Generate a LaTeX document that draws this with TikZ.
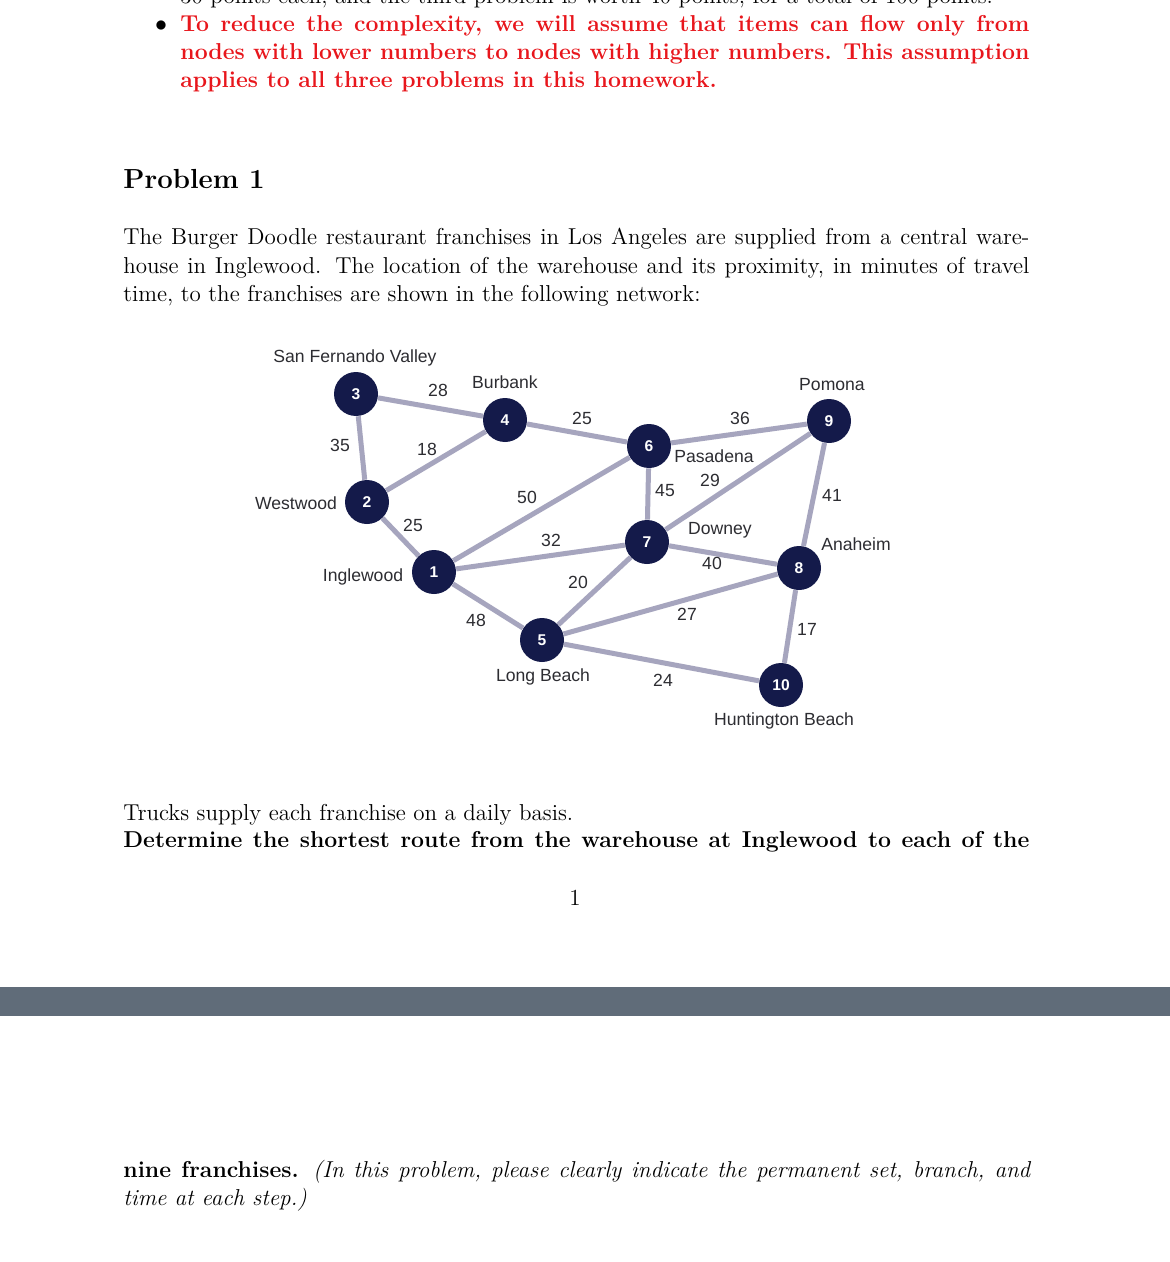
\documentclass[tikz,border=0pt]{standalone}
\usepackage{fontspec}
\newfontfamily\hv{Liberation Sans}
\definecolor{navy}{RGB}{20,26,74}
\definecolor{roadc}{RGB}{166,165,190}
\definecolor{labc}{RGB}{45,45,50}
\definecolor{barc}{RGB}{96,108,121}
\definecolor{redt}{RGB}{232,22,28}
\newcommand\jline[2]{\makebox[#1][s]{#2}}
\begin{document}
\begin{tikzpicture}[x=0.5pt,y=-0.5pt,
  txt/.style={anchor=base west,inner sep=0pt,font=\fontsize{11.5}{14}\selectfont},
  city/.style={circle,fill=navy,minimum size=22pt,inner sep=0pt,text=white,font=\hv\bfseries\fontsize{7.8}{8}\selectfont},
  road/.style={draw=roadc,line width=2.5pt},
  wt/.style={inner sep=0pt,text=labc,font=\hv\fontsize{8.8}{9}\selectfont},
  place/.style={inner sep=0pt,text=labc,font=\hv\fontsize{8.8}{9}\selectfont}]
\useasboundingbox (0,0) rectangle (1170,1262);
\clip (0,0) rectangle (1170,1262);
\fill[white] (0,0) rectangle (1170,1262);

% top text
\node[txt] (t0) at (180,4) {30 points each, and the third problem is worth 40 points, for a total of 100 points.};
\node[txt,anchor=base] (bul) at (161,32) {$\bullet$};
\node[txt,text=redt,font=\fontsize{11.5}{14}\selectfont\bfseries] (r1) at (180,32) {\jline{424.5pt}{To reduce the complexity, we will assume that items can flow only from}};
\node[txt,text=redt,font=\fontsize{11.5}{14}\selectfont\bfseries] (r2) at (180,60) {\jline{424.5pt}{nodes with lower numbers to nodes with higher numbers. This assumption}};
\node[txt,text=redt,font=\fontsize{11.5}{14}\selectfont\bfseries] (r3) at (180,88) {applies to all three problems in this homework.};

\node[txt,font=\fontsize{13.8}{16}\selectfont\bfseries] (hd) at (123,189) {Problem 1};

\node[txt] (p1) at (123,245) {\jline{453pt}{The Burger Doodle restaurant franchises in Los Angeles are supplied from a central ware-}};
\node[txt] (p2) at (123,273.5) {\jline{453pt}{house in Inglewood. The location of the warehouse and its proximity, in minutes of travel}};
\node[txt] (p3) at (123,302) {time, to the franchises are shown in the following network:};

% network
\node[city] (n1) at (434,572) {1};
\node[city] (n2) at (367,502) {2};
\node[city] (n3) at (356,394) {3};
\node[city] (n4) at (505,420) {4};
\node[city] (n5) at (542,640) {5};
\node[city] (n6) at (649,446) {6};
\node[city] (n7) at (647,542) {7};
\node[city] (n8) at (799,568) {8};
\node[city] (n9) at (829,421) {9};
\node[city] (n10) at (781,685) {10};

\draw[road] (n1) -- (n2);
\draw[road] (n1) -- (n6);
\draw[road] (n1) -- (n7);
\draw[road] (n1) -- (n5);
\draw[road] (n2) -- (n3);
\draw[road] (n2) -- (n4);
\draw[road] (n3) -- (n4);
\draw[road] (n4) -- (n6);
\draw[road] (n5) -- (n7);
\draw[road] (n5) -- (n8);
\draw[road] (n5) -- (n10);
\draw[road] (n6) -- (n7);
\draw[road] (n6) -- (n9);
\draw[road] (n7) -- (n9);
\draw[road] (n7) -- (n8);
\draw[road] (n8) -- (n9);
\draw[road] (n8) -- (n10);

\node[wt] (w34) at (438,390) {28};
\node[wt] (w23) at (340,445) {35};
\node[wt] (w24) at (427,449) {18};
\node[wt] (w12) at (413,525) {25};
\node[wt] (w16) at (527,497) {50};
\node[wt] (w17) at (551,540) {32};
\node[wt] (w57) at (578,582) {20};
\node[wt] (w15) at (476,620) {48};
\node[wt] (w46) at (582,418) {25};
\node[wt] (w69) at (740,418) {36};
\node[wt] (w67) at (665,491) {45};
\node[wt] (w79) at (710,480) {29};
\node[wt] (w78) at (712,563) {40};
\node[wt] (w58) at (687,614) {27};
\node[wt] (w510) at (663,680) {24};
\node[wt] (w89) at (832,495) {41};
\node[wt] (w810) at (807,629) {17};

\node[place] (c3) at (355,358) {San Fernando Valley};
\node[place] (c4) at (505,382) {Burbank};
\node[place] (c9) at (832,385) {Pomona};
\node[place] (c6) at (714,456) {Pasadena};
\node[place] (c2) at (296,503) {Westwood};
\node[place] (c7) at (720,530) {Downey};
\node[place] (c8) at (856,544) {Anaheim};
\node[place] (c1) at (363,577) {Inglewood};
\node[place] (c5) at (543,677) {Long Beach};
\node[place] (c10) at (784,721) {Huntington Beach};

% lower text
\node[txt] (tr) at (123,820) {Trucks supply each franchise on a daily basis.};
\node[txt,font=\fontsize{11.5}{14}\selectfont\bfseries] (det) at (123,847) {\jline{453pt}{Determine the shortest route from the warehouse at Inglewood to each of the}};
\node[txt,anchor=base] (pg) at (575,905) {1};

\fill[barc] (0,987) rectangle (1170,1016);

\node[txt] (nf) at (123,1177) {\jline{454pt}{\textbf{nine franchises.} \textit{(In this problem, please clearly indicate the permanent set, branch, and}}};
\node[txt] (ts) at (123,1205) {\textit{time at each step.)}};
\end{tikzpicture}
\end{document}
